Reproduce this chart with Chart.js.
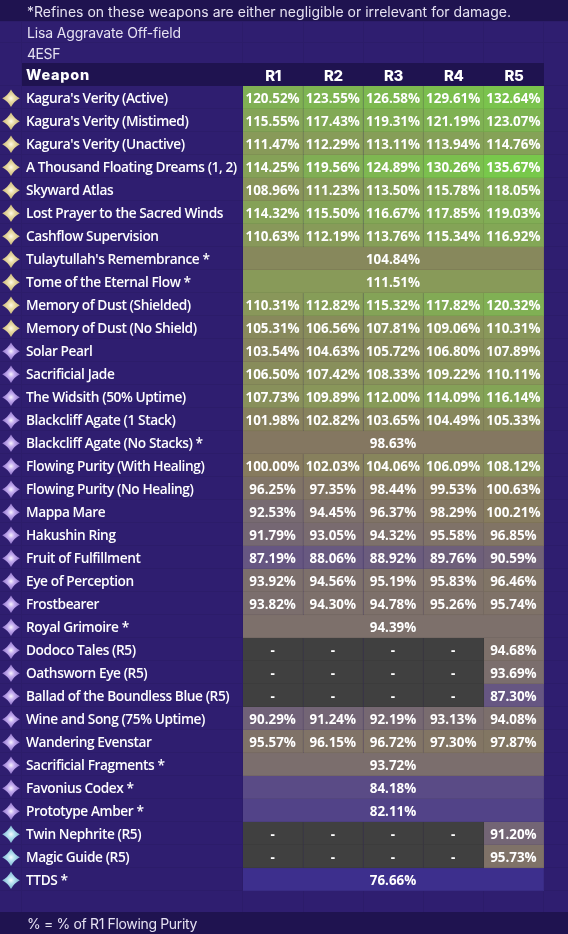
<!DOCTYPE html>
<html><head><meta charset="utf-8">
<style>html,body{margin:0;padding:0;background:#2f1e70;overflow:hidden}canvas{display:block}</style>
<script src="https://cdn.jsdelivr.net/npm/chart.js@4"></script>
</head><body><canvas id="c" width="568" height="934" style="width:568px;height:934px"></canvas>
<script>
const NOTE="*Refines on these weapons are either negligible or irrelevant for damage.";
const SUB1="Lisa Aggravate Off-field";
const SUB2="4ESF";
const FOOT="% = % of R1 Flowing Purity";
const HEAD="Weapon";
const RANKS=["R1","R2","R3","R4","R5"];
const WEAPONS=["Kagura's Verity (Active)","Kagura's Verity (Mistimed)","Kagura's Verity (Unactive)","A Thousand Floating Dreams (1, 2)","Skyward Atlas","Lost Prayer to the Sacred Winds","Cashflow Supervision","Tulaytullah's Remembrance *","Tome of the Eternal Flow *","Memory of Dust (Shielded)","Memory of Dust (No Shield)","Solar Pearl","Sacrificial Jade","The Widsith (50% Uptime)","Blackcliff Agate (1 Stack)","Blackcliff Agate (No Stacks) *","Flowing Purity (With Healing)","Flowing Purity (No Healing)","Mappa Mare","Hakushin Ring","Fruit of Fulfillment","Eye of Perception","Frostbearer","Royal Grimoire *","Dodoco Tales (R5)","Oathsworn Eye (R5)","Ballad of the Boundless Blue (R5)","Wine and Song (75% Uptime)","Wandering Evenstar","Sacrificial Fragments *","Favonius Codex *","Prototype Amber *","Twin Nephrite (R5)","Magic Guide (R5)","TTDS *"];
const RARITY=[5,5,5,5,5,5,5,5,5,5,5,4,4,4,4,4,4,4,4,4,4,4,4,4,4,4,4,4,4,4,4,4,3,3,3];
const R1=[120.52,115.55,111.47,114.25,108.96,114.32,110.63,null,null,110.31,105.31,103.54,106.50,107.73,101.98,null,100.00,96.25,92.53,91.79,87.19,93.92,93.82,null,null,null,null,90.29,95.57,null,null,null,null,null,null];
const R2=[123.55,117.43,112.29,119.56,111.23,115.50,112.19,null,null,112.82,106.56,104.63,107.42,109.89,102.82,null,102.03,97.35,94.45,93.05,88.06,94.56,94.30,null,null,null,null,91.24,96.15,null,null,null,null,null,null];
const R3=[126.58,119.31,113.11,124.89,113.50,116.67,113.76,null,null,115.32,107.81,105.72,108.33,112.00,103.65,null,104.06,98.44,96.37,94.32,88.92,95.19,94.78,null,null,null,null,92.19,96.72,null,null,null,null,null,null];
const R4=[129.61,121.19,113.94,130.26,115.78,117.85,115.34,null,null,117.82,109.06,106.80,109.22,114.09,104.49,null,106.09,99.53,98.29,95.58,89.76,95.83,95.26,null,null,null,null,93.13,97.30,null,null,null,null,null,null];
const R5=[132.64,123.07,114.76,135.67,118.05,119.03,116.92,null,null,120.32,110.31,107.89,110.11,116.14,105.33,null,108.12,100.63,100.21,96.85,90.59,96.46,95.74,null,94.68,93.69,87.30,94.08,97.87,null,null,null,91.20,95.73,null];
const ALL_RANKS=[null,null,null,null,null,null,null,104.84,111.51,null,null,null,null,null,null,98.63,null,null,null,null,null,null,null,94.39,null,null,null,null,null,93.72,84.18,82.11,null,null,76.66];

const STOPS=[[76.66,[61,47,141]],[87,[101,85,131]],[94,[124,111,108]],[100,[134,122,94]],[110,[137,150,90]],[120,[128,175,84]],[135.67,[120,200,75]]];
function cellRGB(v){
  if(v==null) return [64,64,64];
  for(let i=1;i<STOPS.length;i++){
    if(v<=STOPS[i][0]){
      const a=STOPS[i-1],b=STOPS[i],t=(v-a[0])/(b[0]-a[0]);
      return a[1].map((c,k)=>Math.round(c+(b[1][k]-c)*t));
    }
  }
  return STOPS[STOPS.length-1][1];
}
const css=c=>`rgb(${c[0]},${c[1]},${c[2]})`;
const dark=c=>css(c.map(x=>Math.round(x*0.92)));

const isMerged=i=>ALL_RANKS[i]!=null;
const COLS=[R1,R2,R3,R4,R5];
const datasets=COLS.map((col,k)=>({
  label:RANKS[k],
  values:col,
  data:col.map((v,i)=>isMerged(i)?null:[k,k+1]),
  backgroundColor:c=>css(cellRGB(col[c.dataIndex])),
  borderColor:c=>dark(cellRGB(col[c.dataIndex])),
}));
datasets.push({
  label:"All",
  values:ALL_RANKS,
  data:ALL_RANKS.map(v=>v==null?null:[0,5]),
  backgroundColor:c=>css(cellRGB(ALL_RANKS[c.dataIndex])),
  borderColor:c=>dark(cellRGB(ALL_RANKS[c.dataIndex])),
});

const BG="#2f1e70",BAND="#1f1350",LINE="#2c1c6a";
const TITLE_FONT="Inter";
const ICON={5:["#fffbe8","#e9dba6","#c9b778"],4:["#f8f3ff","#c2abee","#8e72c8"],3:["#f7fdff","#b4e0f0","#7fb4cf"]};

function fitText(c,txt,x,y,w){
  c.letterSpacing="0px";
  const m=c.measureText(txt).width;
  c.letterSpacing=((w-m)/txt.length).toFixed(3)+"px";
  c.fillText(txt,x,y);
  c.letterSpacing="0px";
}

const tablePlugin={
  id:"table",
  beforeDraw(ch){
    const c=ch.ctx,W=ch.width,H=ch.height,y=ch.scales.y,x=ch.scales.x;
    const top=y.top,rowH=y.height/WEAPONS.length;
    if(!y._nudged){
      y.getLabelItems(ch.chartArea).forEach(it=>{it.options.translation[1]+=2;});
      x.getLabelItems(ch.chartArea).forEach(it=>{it.options.translation[1]+=7;});
      y._nudged=true;
    }
    c.save();
    c.fillStyle=BG;c.fillRect(0,0,W,H);
    c.fillStyle=LINE;
    [21,42].forEach(p=>c.fillRect(0,p,W,1));
    for(let i=0;i<=WEAPONS.length;i++) c.fillRect(0,Math.round(top+i*rowH)-1,W,1);
    [22,243,304,364,424,484,544].forEach(p=>c.fillRect(p-1,21,1,H-43));
    c.fillStyle=BAND;
    c.fillRect(0,0,W,21);
    c.fillRect(0,912,W,22);
    c.fillRect(22,63,522,23);
    WEAPONS.forEach((w,i)=>{
      const cy=y.getPixelForValue(i)+0.8,cx=11,r=8.8,q=3;
      const g=c.createRadialGradient(cx,cy,0,cx,cy,r);
      const col=ICON[RARITY[i]];
      g.addColorStop(0,col[0]);g.addColorStop(.4,col[1]);g.addColorStop(1,col[2]);
      c.fillStyle=g;c.beginPath();
      c.moveTo(cx,cy-r);
      c.quadraticCurveTo(cx+q,cy-q,cx+r,cy);
      c.quadraticCurveTo(cx+q,cy+q,cx,cy+r);
      c.quadraticCurveTo(cx-q,cy+q,cx-r,cy);
      c.quadraticCurveTo(cx-q,cy-q,cx,cy-r);
      c.closePath();c.fill();
    });
    c.restore();
    c.letterSpacing="-0.42px";
  },
  afterDatasetsDraw(ch){
    const c=ch.ctx;
    c.letterSpacing="0px";
    c.save();
    c.textBaseline="middle";c.textAlign="center";
    c.font="700 13.4px 'Open Sans'";c.fillStyle="#ffffff";
    ch.data.datasets.forEach((ds,d)=>{
      const m=ch.getDatasetMeta(d);
      m.data.forEach((el,i)=>{
        const raw=ds.data[i];
        if(raw==null) return;
        const v=ds.values[i];
        const txt=v==null?"-":v.toFixed(2)+"%";
        c.fillText(txt,(el.x+el.base)/2-0.5,el.y+2);
      });
    });
    c.textAlign="left";
    c.fillStyle="#e6e2f2";
    c.font="14px "+TITLE_FONT;
    fitText(c,NOTE,27,12.5,484);
    fitText(c,SUB1,27,33.5,154);
    fitText(c,SUB2,27,54.5,33);
    fitText(c,FOOT,27,925,170);
    c.fillStyle="#ffffff";
    c.font="800 14.5px "+TITLE_FONT;
    fitText(c,HEAD,26,76,64);
    c.restore();
  }
};

new Chart(document.getElementById("c"),{
  type:"bar",
  data:{labels:WEAPONS,datasets},
  plugins:[tablePlugin],
  options:{
    indexAxis:"y",
    responsive:false,
    animation:false,
    devicePixelRatio:1,
    layout:{padding:{left:26,right:24,top:63,bottom:43}},
    datasets:{bar:{grouped:false,barPercentage:1,categoryPercentage:1,borderWidth:{right:1,bottom:1,left:0,top:0},borderSkipped:false}},
    plugins:{legend:{display:false},title:{display:false},tooltip:{enabled:false}},
    scales:{
      x:{
        type:"linear",position:"top",min:0,max:5,
        grid:{display:false},border:{display:false},
        afterBuildTicks:s=>{s.ticks=RANKS.map((r,i)=>({value:i+0.5}));},
        afterFit:s=>{s.height=23;},
        ticks:{autoSkip:false,maxRotation:0,padding:0,color:"#fff",
          font:{family:TITLE_FONT,size:15,weight:"800"},
          callback:v=>RANKS[Math.floor(v)]}
      },
      y:{
        type:"category",
        grid:{display:false,drawTicks:false},border:{display:false},
        afterFit:s=>{s.width=217;},
        ticks:{autoSkip:false,crossAlign:"far",padding:0,color:"#fff",
          font:{family:"'Open Sans'",size:13.7,weight:"600"}}
      }
    }
  }
});
</script></body></html>
